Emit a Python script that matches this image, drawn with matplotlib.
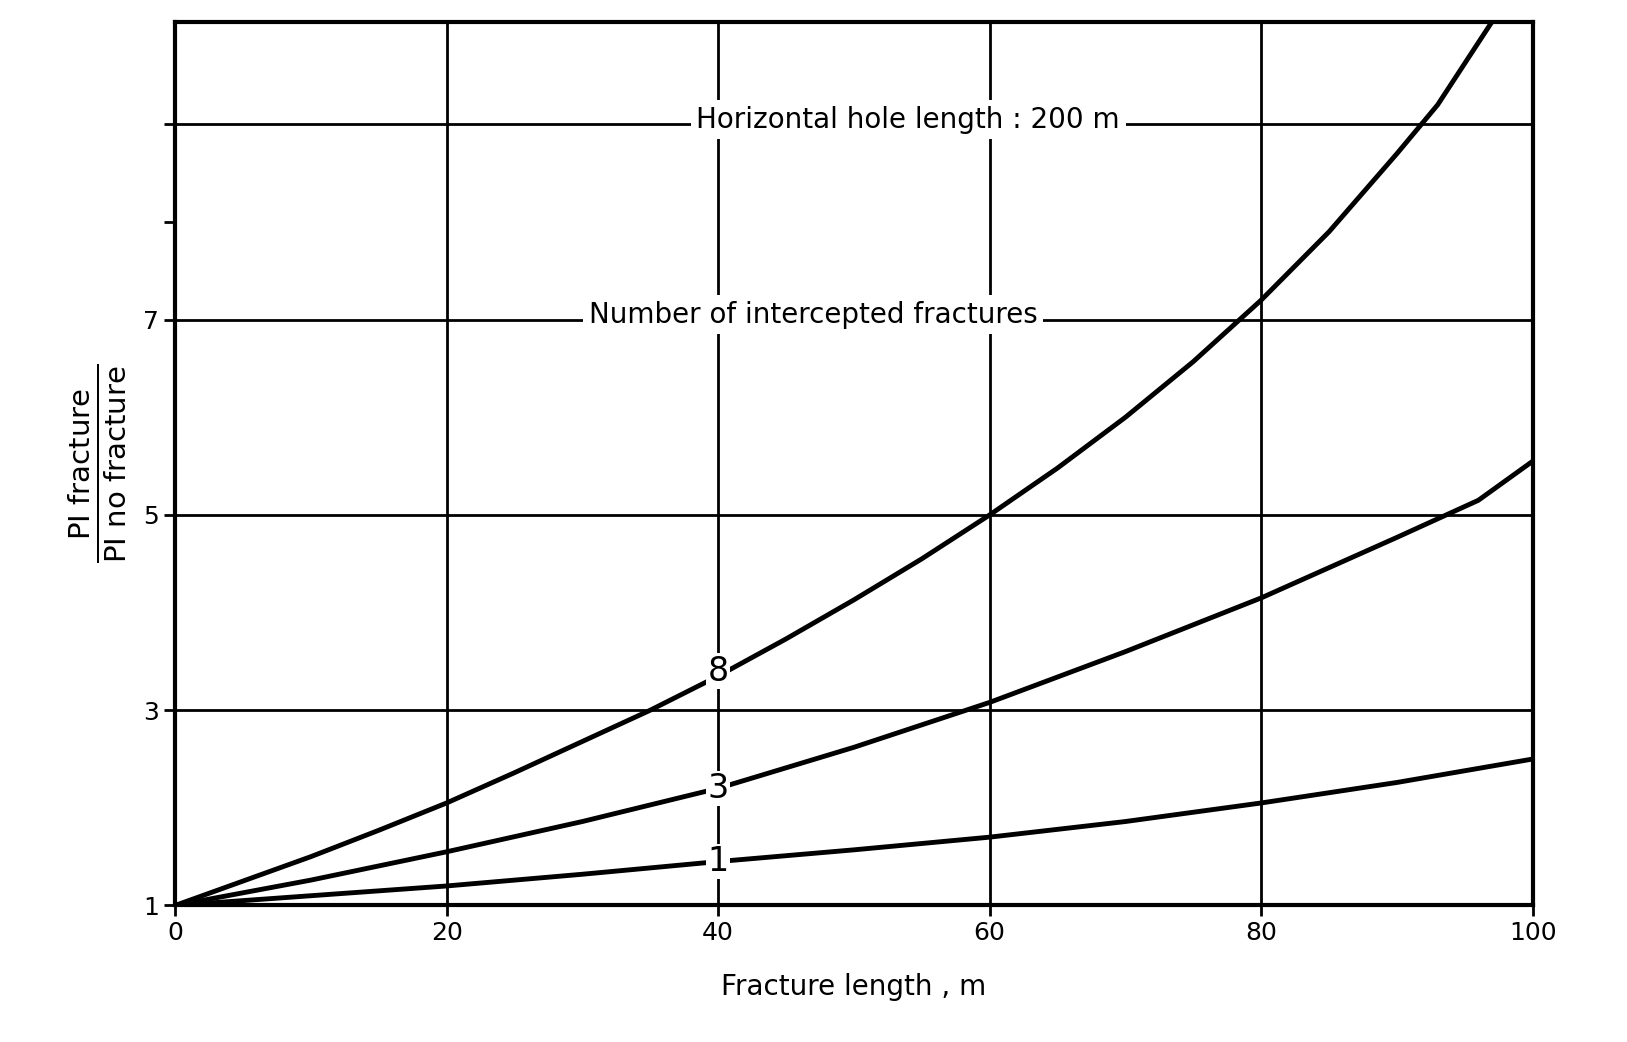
import matplotlib
matplotlib.use("Agg")
import matplotlib.pyplot as plt

x8 = [0, 5, 10, 15, 20, 25, 30, 35, 40, 45, 50, 55, 60, 65, 70, 75, 80, 85, 90, 93, 97]
y8 = [1, 1.25, 1.5, 1.77, 2.05, 2.36, 2.68, 3.0, 3.35, 3.73, 4.13, 4.55, 5.0, 5.48, 6.0, 6.57, 7.2, 7.9, 8.7, 9.2, 10.05]
x3 = [0, 10, 20, 30, 40, 50, 60, 70, 80, 90, 96, 100]
y3 = [1, 1.26, 1.55, 1.86, 2.2, 2.62, 3.08, 3.6, 4.15, 4.77, 5.15, 5.55]
x1 = [0, 10, 20, 30, 40, 50, 60, 70, 80, 90, 100]
y1 = [1, 1.1, 1.2, 1.32, 1.45, 1.57, 1.7, 1.86, 2.05, 2.26, 2.5]
curve_labels = ["8", "3", "1"]
label_y = [3.4, 2.2, 1.45]
xticks = [0, 20, 40, 60, 80, 100]
yticks = [1, 3, 5, 7]

fig = plt.figure(figsize=(16.27, 10.42), dpi=100)
ax = fig.add_axes([0.1076, 0.131, 0.8344, 0.848])
ax.set_xlim(0, 100)
ax.set_ylim(1, 10.05)
for v in [20, 40, 60, 80]:
    ax.axvline(v, color="black", lw=2)
for v in [3, 5, 7, 9]:
    ax.axhline(v, color="black", lw=2)
for xs, ys in [(x8, y8), (x3, y3), (x1, y1)]:
    ax.plot(xs, ys, color="black", lw=3.5, solid_joinstyle="round")
for t, yy in zip(curve_labels, label_y):
    ax.text(40, yy, t, ha="center", va="center", fontsize=24,
            bbox=dict(facecolor="white", edgecolor="none", pad=1))
ax.text(54, 9.05, "Horizontal hole length : 200 m", ha="center", va="center",
        fontsize=20, bbox=dict(facecolor="white", edgecolor="none", pad=4))
ax.text(47, 7.05, "Number of intercepted fractures", ha="center", va="center",
        fontsize=20, bbox=dict(facecolor="white", edgecolor="none", pad=4))
ax.set_xticks(xticks)
ax.set_yticks(yticks)
ax.set_yticks([8, 9], minor=True)
ax.tick_params(labelsize=18, width=2, length=8)
ax.tick_params(which="minor", width=2, length=8)
for s in ax.spines.values():
    s.set_linewidth(3)
ax.set_xlabel("Fracture length , m", fontsize=20, labelpad=20)
ax.set_ylabel(r"$\frac{\mathrm{PI\ fracture}}{\mathrm{PI\ no\ fracture}}$", fontsize=30, labelpad=10)
fig.savefig("out.png", dpi=100)
